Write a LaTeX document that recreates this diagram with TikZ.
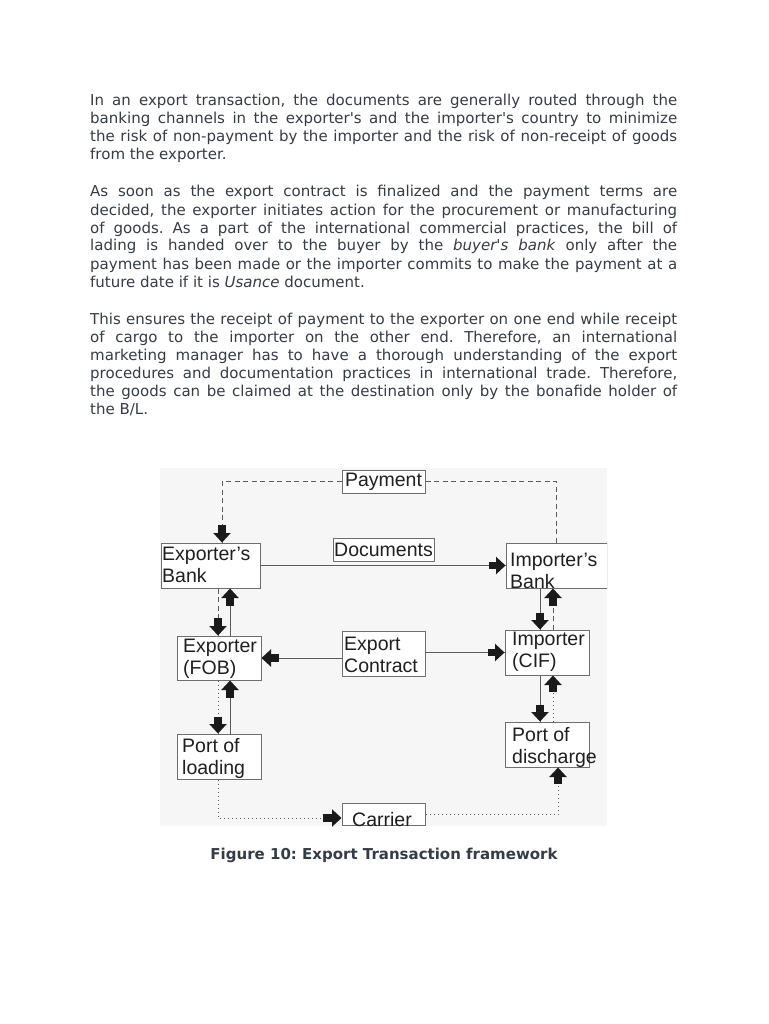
\documentclass[tikz,border=0pt]{standalone}
\usepackage{fontspec}
\usetikzlibrary{arrows.meta}
\newfontfamily\bodyfont{DejaVu Sans}
\newfontfamily\diagfont{Liberation Sans}
\definecolor{bodytext}{HTML}{363C44}
\definecolor{diagbg}{HTML}{F6F6F6}
\definecolor{boxline}{HTML}{6E6E6E}
\definecolor{conn}{HTML}{5A5A5A}
\definecolor{arrowfill}{HTML}{1A1A1A}
\newcommand{\jl}[1]{\hbox to 587pt{#1}}
\newcommand{\lastline}[1]{\hbox{#1}}
\newcommand{\twolines}[2]{\vtop{\baselineskip=22pt\hbox{#1}\hbox{#2}}}
\tikzset{
  para/.style={font=\bodyfont\fontsize{15}{18}\selectfont\frenchspacing, text=bodytext, inner sep=0pt, anchor=base west},
  box/.style={draw=boxline, fill=white, line width=1pt, inner sep=0pt},
  lbl/.style={font=\diagfont\fontsize{19.5}{22}\selectfont, text=black!88, inner sep=0pt, anchor=base west},
  solidc/.style={draw=conn, line width=0.9pt},
  dashc/.style={draw=conn, line width=0.9pt, dash pattern=on 5pt off 3.5pt},
  dotc/.style={draw=conn, line width=1pt, dash pattern=on 1pt off 3pt},
  blk/.style={draw=arrowfill, line width=7.5pt, -{Triangle[width=17pt,length=9.5pt]}}
}
\begin{document}
\begin{tikzpicture}[x=1pt,y=-1pt]
\useasboundingbox (0,0) rectangle (768,1024);
\fill[white] (0,0) rectangle (768,1024);

% body text
\node[para] (p1) at (90,106) {\vtop{\baselineskip=18pt
\jl{In an export transaction, the documents are generally routed through the}
\jl{banking channels in the exporter's and the importer's country to minimize}
\jl{the risk of non-payment by the importer and the risk of non-receipt of goods}
\lastline{from the exporter.}}};

\node[para] (p2) at (90,197) {\vtop{\baselineskip=18pt
\jl{As soon as the export contract is finalized and the payment terms are}
\jl{decided, the exporter initiates action for the procurement or manufacturing}
\jl{of goods. As a part of the international commercial practices, the bill of}
\jl{lading is handed over to the buyer by the \textit{buyer's bank} only after the}
\jl{payment has been made or the importer commits to make the payment at a}
\lastline{future date if it is \textit{Usance} document.}}};

\node[para] (p3) at (90,324) {\vtop{\baselineskip=18pt
\jl{This ensures the receipt of payment to the exporter on one end while receipt}
\jl{of cargo to the importer on the other end. Therefore, an international}
\jl{marketing manager has to have a thorough understanding of the export}
\jl{procedures and documentation practices in international trade. Therefore,}
\jl{the goods can be claimed at the destination only by the bonafide holder of}
\lastline{the B/L.}}};

% diagram
\fill[diagbg] (160,468) rectangle (607,826);
\begin{scope}
\clip (160,468) rectangle (607,826);
\coordinate (xL1) at (222,0);
\coordinate (xL2) at (218,0);
\coordinate (xL3) at (230,0);
\coordinate (xR1) at (540,0);
\coordinate (xR2) at (553,0);
\coordinate (xR3) at (558,0);
\coordinate (yB) at (0,818);

\node[box, minimum width=83pt, minimum height=23pt, font=\diagfont\fontsize{19.5}{22}\selectfont, text=black!88] (pay) at (383.5,481.5) {Payment};
\node[box, minimum width=101pt, minimum height=23pt, font=\diagfont\fontsize{19.5}{22}\selectfont, text=black!88] (doc) at (383.5,549.5) {Documents};
\node[box, minimum width=99pt, minimum height=45pt] (eb) at (210.5,565.5) {};
\node[box, minimum width=101pt, minimum height=45pt] (imb) at (556.5,565.5) {};
\node[box, minimum width=84pt, minimum height=44pt] (exp) at (219,658) {};
\node[box, minimum width=83pt, minimum height=45pt] (ec) at (383.5,653.5) {};
\node[box, minimum width=84pt, minimum height=45pt] (imp) at (547,652.5) {};
\node[box, minimum width=84pt, minimum height=45pt] (pol) at (219,756.5) {};
\node[box, minimum width=84pt, minimum height=45pt] (pod) at (547,744.5) {};
\node[box, minimum width=83pt, minimum height=22pt] (car) at (383.5,814) {};

% connectors
\draw[dashc] (pay.west) -| (xL1 |- eb.north);
\draw[blk] ([yshift=18pt]xL1 |- eb.north) -- (xL1 |- eb.north);
\draw[dashc] (pay.east) -| (imb.north);

\draw[solidc] (eb.east) -- (imb.west);
\draw[blk] ([xshift=-17pt]imb.west) -- (imb.west);

\draw[dashc] (xL2 |- eb.south) -- (xL2 |- exp.north);
\draw[blk] ([yshift=18pt]xL2 |- exp.north) -- (xL2 |- exp.north);
\draw[solidc] (xL3 |- exp.north) -- (xL3 |- eb.south);
\draw[blk] ([yshift=-17pt]xL3 |- eb.south) -- (xL3 |- eb.south);

\draw[solidc] (ec.west |- exp.east) -- (exp.east);
\draw[blk] ([xshift=17pt]exp.east) -- (exp.east);
\draw[solidc] (ec.east |- imp.west) -- (imp.west);
\draw[blk] ([xshift=-17pt]imp.west) -- (imp.west);

\draw[dotc] (xL2 |- exp.south) -- (xL2 |- pol.north);
\draw[blk] ([yshift=17pt]xL2 |- pol.north) -- (xL2 |- pol.north);
\draw[solidc] (xL3 |- pol.north) -- (xL3 |- exp.south);
\draw[blk] ([yshift=-17pt]xL3 |- exp.south) -- (xL3 |- exp.south);

\draw[solidc] (xR1 |- imb.south) -- (xR1 |- imp.north);
\draw[blk] ([yshift=17pt]xR1 |- imp.north) -- (xR1 |- imp.north);
\draw[dashc] (xR2 |- imp.north) -- (xR2 |- imb.south);
\draw[blk] ([yshift=-17pt]xR2 |- imb.south) -- (xR2 |- imb.south);

\draw[solidc] (xR1 |- imp.south) -- (xR1 |- pod.north);
\draw[blk] ([yshift=17pt]xR1 |- pod.north) -- (xR1 |- pod.north);
\draw[dotc] (xR2 |- pod.north) -- (xR2 |- imp.south);
\draw[blk] ([yshift=-16pt]xR2 |- imp.south) -- (xR2 |- imp.south);

\draw[dotc] (xL2 |- pol.south) |- (car.west |- yB);
\draw[blk] ([xshift=-19pt]car.west |- yB) -- (car.west |- yB);
\draw[dotc] (car.east) -| (xR3 |- pod.south);
\draw[blk] ([yshift=-16pt]xR3 |- pod.south) -- (xR3 |- pod.south);

% box texts
\node[lbl] (ebt) at (162,560) {\twolines{Exporter’s}{Bank}};
\node[lbl] (imbt) at (510,566) {\twolines{Importer’s}{Bank}};
\node[lbl] (expt) at (183,652) {\twolines{Exporter}{(FOB)}};
\node[lbl] (ect) at (344,650) {\twolines{Export}{Contract}};
\node[lbl] (impt) at (512,645) {\twolines{Importer}{(CIF)}};
\node[lbl] (polt) at (182,752) {\twolines{Port of}{loading}};
\node[lbl] (podt) at (512,741) {\twolines{Port of}{discharge}};
\node[lbl] (cart) at (352,826.5) {Carrier};
\end{scope}

% caption
\node[font=\bodyfont\bfseries\fontsize{15}{18}\selectfont\frenchspacing, text=bodytext, inner sep=0pt, anchor=base] (cap) at (384,859) {Figure 10: Export Transaction framework};
\end{tikzpicture}
\end{document}
